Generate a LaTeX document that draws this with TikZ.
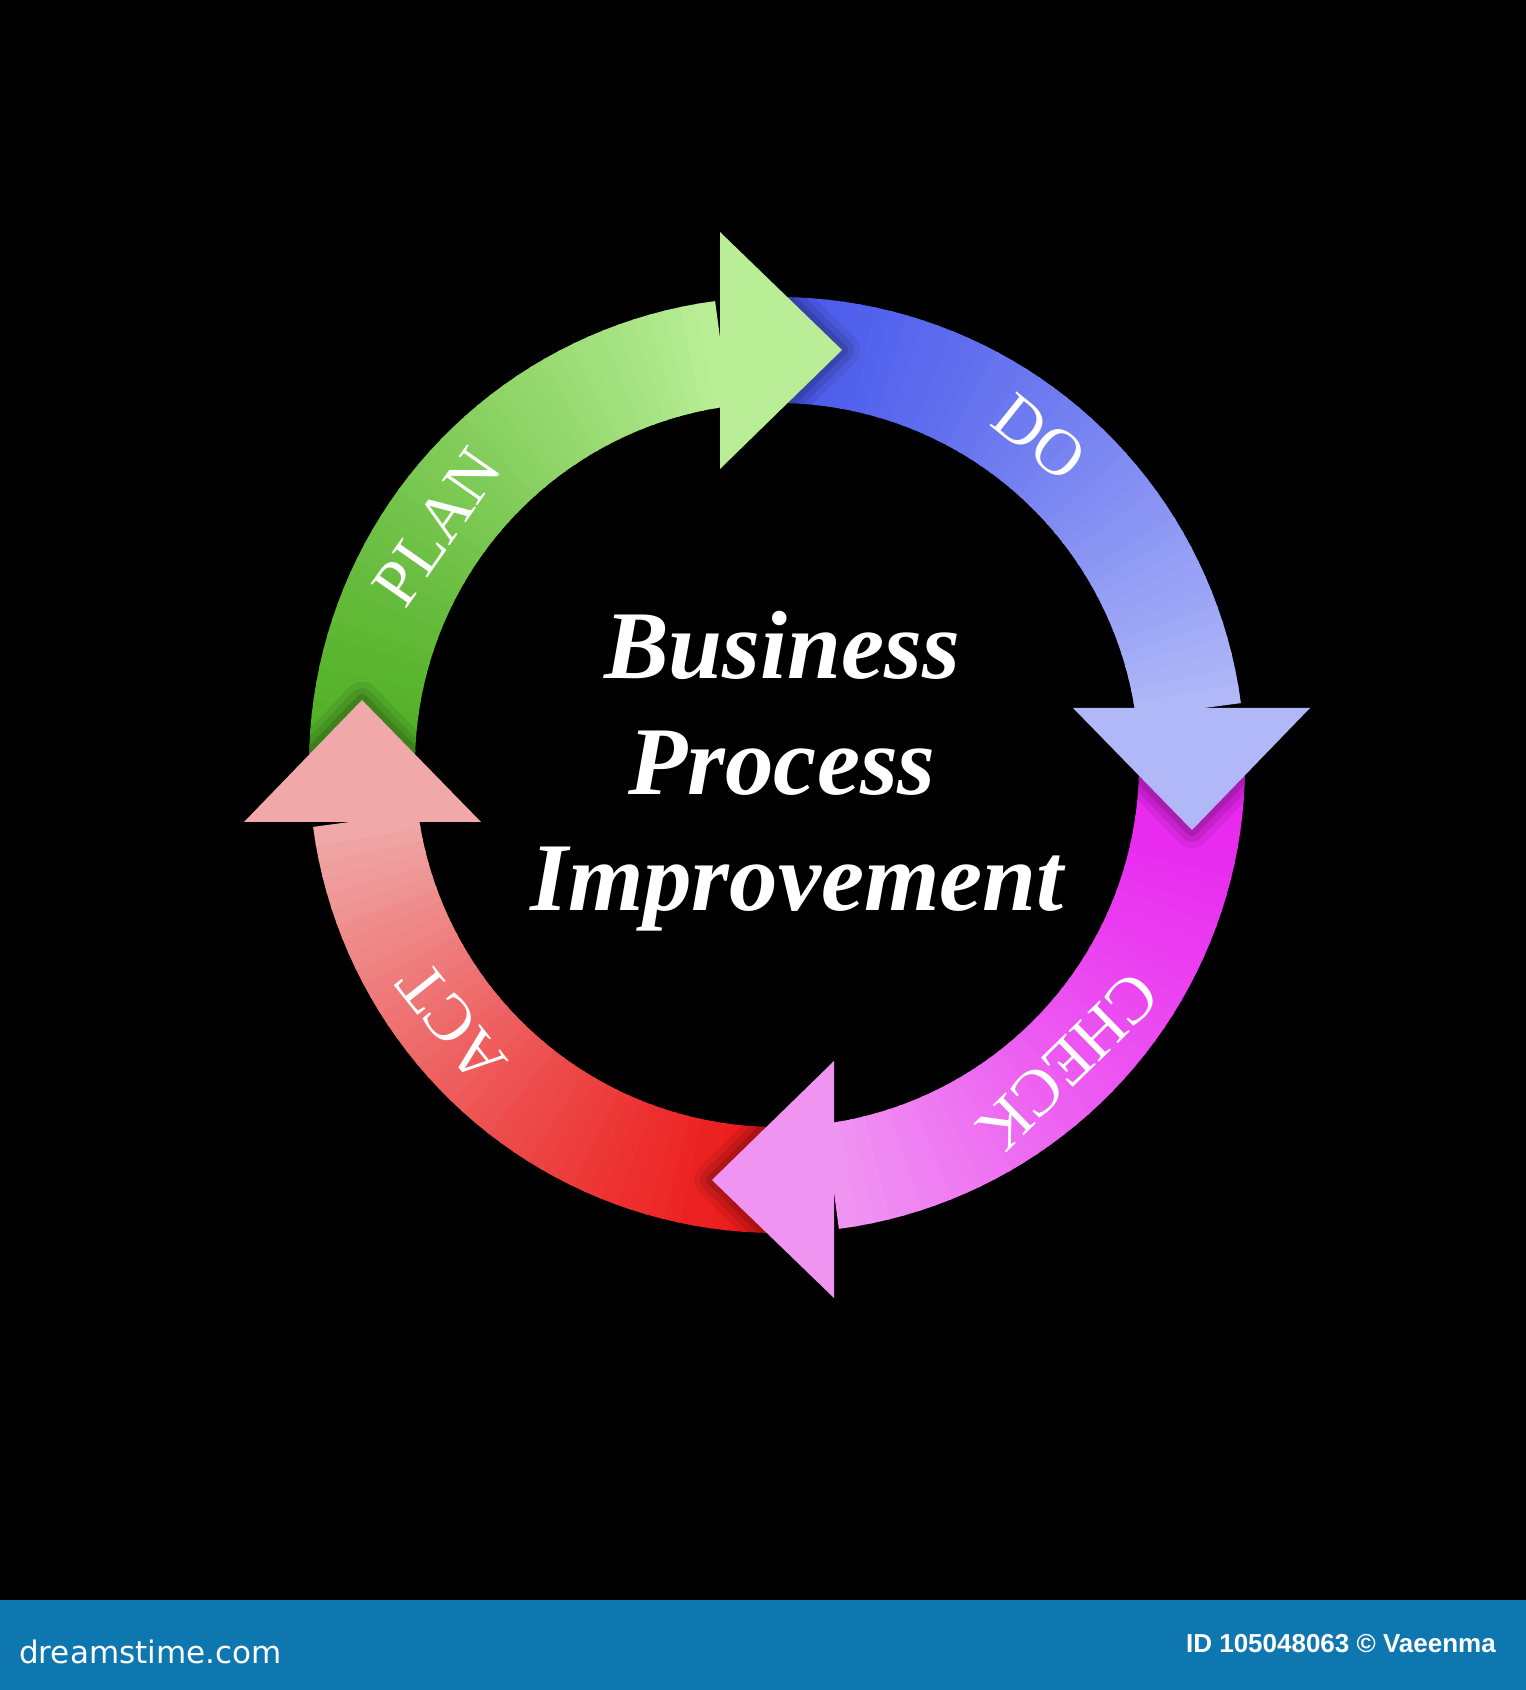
\documentclass[tikz,border=0pt]{standalone}
\usepackage{fontspec}
\setmainfont{Liberation Serif}
\newfontfamily\barfont{DejaVu Sans}
\newfontfamily\idfont{Liberation Sans}
\usetikzlibrary{calc}
\definecolor{gA}{HTML}{4CAC20}
\definecolor{gB}{HTML}{B9EE96}
\definecolor{bA}{HTML}{4656EB}
\definecolor{bB}{HTML}{B0B8F8}
\definecolor{mA}{HTML}{E81EF0}
\definecolor{mB}{HTML}{F094F2}
\definecolor{rA}{HTML}{EC1212}
\definecolor{rB}{HTML}{F0A8A8}
\definecolor{barblue}{HTML}{0F77B0}
\tikzset{
  lbl/.style={text=white, inner sep=0pt, font=\fontsize{66}{66}\selectfont},
  titletext/.style={text=white, inner sep=0pt, font=\bfseries\itshape\fontsize{97}{97}\selectfont},
}
\begin{document}
\begin{tikzpicture}[x=1pt,y=1pt]
\useasboundingbox (0,0) rectangle (1526,1690);
\fill[black] (0,0) rectangle (1526,1690);
\fill[barblue] (0,0) rectangle (1526,90);
\coordinate (C) at (777,925);
\def\Rin{362pt}
\def\Rout{468pt}
% arrow bodies with gradient (each drawn in the frame of the PLAN arrow, rotated)
\foreach \k/\ca/\cb in {0/gA/gB,1/bA/bB,2/mA/mB,3/rA/rB}{
  \begin{scope}[shift={(777,925)}, rotate=-90*\k]
  \foreach \i in {0,...,43}{
    \pgfmathsetmacro\angA{186-2*\i}
    \pgfmathsetmacro\angB{\angA-2.4}
    \pgfmathtruncatemacro\pp{round(100*(\i/43)^1.3)}
    \fill[\cb!\pp!\ca] (\angA:\Rout) arc[start angle=\angA, end angle=\angB, radius=\Rout]
      -- (\angB:\Rin) arc[start angle=\angB, end angle=\angA, radius=\Rin] -- cycle;
  }
  \end{scope}
}
% arrow heads with soft shadow
\foreach \k/\cb in {0/gB,1/bB,2/mB,3/rB}{
  \begin{scope}[shift={(777,925)}, rotate=-90*\k]
  \begin{scope}
    \clip (-55,180) rectangle (240,640);
    \foreach \w/\o in {36/0.07,24/0.09,12/0.12}{
      \draw[black, line width=\w pt, opacity=\o, line join=round]
        (-57,296) -- (65,415) -- (-57,533) -- cycle;
    }
  \end{scope}
  \fill[\cb] (-57,296) -- (65,415) -- (-57,533) -- cycle;
  \end{scope}
}
% labels on arrows
\node[lbl, rotate=55] (plan) at ($(C)+(145:415pt)$) {PLAN};
\node[lbl, rotate=-38.7] (do) at ($(C)+(51.3:420pt)$) {DO};
\node[lbl, rotate=-135.6] (check) at ($(C)+(-45.6:416pt)$) {CHECK};
\node[lbl, rotate=128.4] (act) at ($(C)+(218.4:415pt)$) {ACT};
% centre title
\node[titletext, anchor=base] (t1) at (782,1011) {Business};
\node[titletext, anchor=base] (t2) at (782,895) {Process};
\node[titletext, anchor=base] (t3) at (797,779) {Improvement};
% bottom bar
\node[anchor=base west, text=white, inner sep=0pt, font=\barfont\fontsize{31}{31}\selectfont] (site) at (19,27) {dreamstime.com};
\node[anchor=base east, text=white, inner sep=0pt, font=\idfont\bfseries\fontsize{26}{26}\selectfont] (id) at (1496,37) {ID 105048063 © Vaeenma};
\end{tikzpicture}
\end{document}
